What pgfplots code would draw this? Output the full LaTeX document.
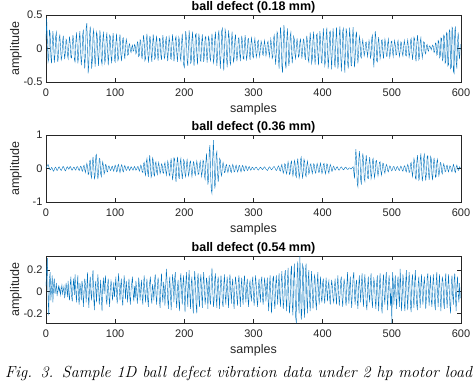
\documentclass[border=0pt]{standalone}
\usepackage{fontspec}
\usepackage{pgfplots}
\usepackage{pgfplotstable}
\pgfplotsset{compat=1.18}
\newfontfamily\arial{Liberation Sans}
\definecolor{mblue}{rgb}{0,0.447,0.741}
\definecolor{axgray}{rgb}{0.15,0.15,0.15}

\pgfplotstableread[header=false]{
0.12
0.45
0.10
-0.20
-0.15
0.28
0.22
-0.12
-0.22
0.05
0.26
0.08
-0.21
-0.10
0.18
0.24
-0.05
-0.20
-0.12
0.15
0.20
0.02
-0.17
-0.12
0.10
0.19
-0.03
-0.16
-0.06
0.14
0.12
-0.10
-0.15
0.04
0.18
0.08
-0.13
-0.14
0.06
0.20
0.10
-0.16
-0.20
0.08
0.24
0.05
-0.22
-0.14
0.15
0.26
-0.04
-0.25
-0.12
0.20
0.28
-0.08
-0.30
-0.10
0.30
0.38
0.05
-0.37
-0.22
0.20
0.33
-0.02
-0.30
-0.18
0.22
0.28
-0.06
-0.27
-0.12
0.25
0.20
-0.10
-0.26
0.02
0.27
0.12
-0.18
-0.24
0.10
0.25
0.06
-0.22
-0.16
0.14
0.24
-0.02
-0.25
-0.08
0.20
0.18
-0.12
-0.22
0.05
0.23
0.10
-0.17
-0.20
0.08
0.22
0.03
-0.18
-0.14
0.12
0.21
-0.04
-0.19
-0.08
0.15
0.16
-0.07
-0.16
0.02
0.14
0.08
-0.10
-0.09
0.05
0.07
-0.03
-0.06
0.02
0.05
-0.04
-0.03
0.06
0.04
-0.08
-0.05
0.10
0.08
-0.12
-0.10
0.13
0.12
-0.09
-0.16
0.04
0.20
0.10
-0.18
-0.15
0.12
0.22
-0.02
-0.21
-0.10
0.18
0.17
-0.08
-0.20
0.03
0.21
0.09
-0.16
-0.14
0.11
0.19
-0.03
-0.18
-0.07
0.15
0.14
-0.10
-0.17
0.05
0.20
0.06
-0.15
-0.12
0.11
0.18
-0.06
-0.19
0.00
0.17
0.10
-0.14
-0.16
0.08
0.21
0.04
-0.19
-0.11
0.14
0.18
-0.05
-0.20
-0.03
0.17
0.12
-0.13
-0.18
0.08
0.22
0.02
-0.24
-0.28
0.05
0.26
0.15
-0.18
-0.26
0.06
0.27
0.08
-0.22
-0.20
0.14
0.25
-0.05
-0.26
-0.10
0.20
0.22
-0.08
-0.24
0.00
0.22
0.12
-0.17
-0.19
0.08
0.21
0.03
-0.20
-0.10
0.16
0.18
-0.06
-0.21
-0.02
0.19
0.12
-0.14
-0.18
0.07
0.22
0.06
-0.21
-0.15
0.14
0.25
-0.03
-0.26
-0.12
0.20
0.27
-0.06
-0.30
-0.10
0.26
0.30
-0.08
-0.33
-0.05
0.28
0.22
-0.14
-0.28
0.04
0.27
0.14
-0.20
-0.24
0.08
0.25
0.06
-0.20
-0.15
0.13
0.21
-0.04
-0.19
-0.09
0.15
0.16
-0.07
-0.19
0.01
0.19
0.10
-0.15
-0.16
0.09
0.20
-0.02
-0.18
-0.08
0.14
0.15
-0.07
-0.17
0.02
0.16
0.08
-0.12
-0.14
0.07
0.15
0.01
-0.13
-0.08
0.10
0.12
-0.05
-0.12
0.00
0.11
0.07
-0.08
-0.10
0.04
0.12
0.02
-0.11
-0.06
0.08
0.11
-0.04
-0.12
0.02
0.14
0.06
-0.15
-0.12
0.15
0.20
-0.08
-0.24
-0.06
0.25
0.22
-0.14
-0.30
0.02
0.32
0.18
-0.26
-0.36
0.06
0.35
0.20
-0.22
-0.30
0.10
0.30
0.08
-0.26
-0.18
0.18
0.24
-0.06
-0.22
-0.08
0.18
0.14
-0.10
-0.15
0.05
0.15
0.04
-0.13
-0.10
0.10
0.14
-0.04
-0.15
-0.02
0.14
0.12
-0.10
-0.17
0.04
0.19
0.10
-0.16
-0.20
0.08
0.24
0.06
-0.22
-0.16
0.14
0.25
-0.04
-0.24
-0.10
0.20
0.22
-0.08
-0.25
0.02
0.26
0.12
-0.20
-0.22
0.10
0.30
0.08
-0.26
-0.20
0.18
0.31
-0.02
-0.30
-0.12
0.24
0.26
-0.10
-0.31
0.00
0.30
0.16
-0.22
-0.28
0.10
0.32
0.05
-0.30
-0.20
0.20
0.33
-0.06
-0.34
-0.14
0.26
0.30
-0.12
-0.36
-0.04
0.30
0.22
-0.20
-0.30
0.06
0.31
0.14
-0.25
-0.26
0.14
0.32
0.04
-0.28
-0.16
0.20
0.24
-0.08
-0.22
-0.06
0.18
0.12
-0.12
-0.14
0.06
0.13
0.02
-0.11
-0.06
0.09
0.10
-0.04
-0.12
0.01
0.12
0.06
-0.14
-0.10
0.16
0.20
-0.10
-0.28
-0.04
0.26
0.16
-0.18
-0.20
0.08
0.17
0.00
-0.15
-0.08
0.12
0.13
-0.06
-0.15
0.02
0.14
0.07
-0.11
-0.12
0.07
0.14
-0.02
-0.13
-0.06
0.10
0.11
-0.05
-0.12
0.02
0.12
0.05
-0.10
-0.09
0.07
0.12
-0.03
-0.12
-0.04
0.10
0.09
-0.07
-0.11
0.02
0.12
0.05
-0.10
-0.11
0.06
0.13
0.01
-0.13
-0.07
0.12
0.15
-0.06
-0.17
-0.04
0.17
0.14
-0.12
-0.19
0.05
0.20
0.09
-0.17
-0.14
0.10
0.16
-0.02
-0.14
-0.06
0.10
0.09
-0.06
-0.08
0.04
0.06
-0.02
-0.04
0.03
0.04
0.01
-0.02
0.02
0.05
0.03
-0.06
-0.04
0.08
0.07
-0.10
-0.08
0.12
0.10
-0.14
-0.12
0.16
0.15
-0.18
-0.16
0.20
0.18
-0.22
-0.20
0.24
0.22
-0.26
-0.24
0.28
0.26
-0.30
-0.28
0.32
0.30
-0.34
-0.37
0.26
0.33
-0.20
-0.30
0.10
0.24
-0.08
-0.16
0.06
}\dataA

\pgfplotstableread[header=false]{
0.02
0.05
0.10
0.12
0.06
0.00
-0.04
-0.02
0.03
0.01
-0.05
-0.08
-0.03
0.02
0.04
-0.01
-0.06
-0.04
0.03
0.05
0.01
-0.03
-0.06
-0.02
0.04
0.06
0.02
-0.04
-0.07
-0.03
0.03
0.05
0.01
-0.02
0.02
0.06
0.03
-0.04
-0.05
0.00
0.04
0.03
-0.03
-0.05
0.02
0.06
0.04
-0.02
-0.06
0.00
0.07
0.05
-0.06
-0.08
0.06
0.10
-0.04
-0.12
0.02
0.15
0.08
-0.18
-0.15
0.22
0.25
-0.20
-0.28
0.15
0.35
0.05
-0.30
-0.22
0.38
0.42
-0.10
-0.32
-0.12
0.30
0.28
-0.15
-0.24
0.05
0.20
0.08
-0.16
-0.10
0.12
0.10
-0.08
-0.10
0.04
0.08
0.02
-0.06
-0.04
0.05
0.07
-0.03
-0.08
0.02
0.10
0.05
-0.10
-0.08
0.09
0.12
-0.04
-0.12
-0.02
0.11
0.08
-0.07
-0.10
0.04
0.09
0.01
-0.06
-0.03
0.05
0.06
-0.02
-0.06
0.00
0.05
0.03
-0.04
-0.05
0.02
0.06
0.01
-0.05
-0.03
0.04
0.06
-0.02
-0.08
0.00
0.10
0.06
-0.10
-0.12
0.14
0.18
-0.12
-0.20
0.20
0.30
-0.10
-0.25
0.15
0.40
0.08
-0.26
-0.18
0.32
0.25
-0.18
-0.22
0.15
0.20
-0.10
-0.18
0.08
0.18
0.00
-0.15
-0.06
0.14
0.10
-0.12
-0.14
0.10
0.18
-0.05
-0.20
-0.02
0.22
0.12
-0.18
-0.22
0.15
0.30
-0.05
-0.35
-0.15
0.32
0.28
-0.20
-0.40
0.05
0.35
0.15
-0.28
-0.30
0.18
0.30
-0.06
-0.32
-0.10
0.26
0.20
-0.18
-0.25
0.10
0.26
0.04
-0.22
-0.12
0.18
0.22
-0.06
-0.24
-0.06
0.20
0.16
-0.14
-0.20
0.06
0.22
0.08
-0.18
-0.16
0.12
0.22
-0.02
-0.24
-0.08
0.25
0.20
-0.20
-0.32
0.15
0.45
0.10
-0.48
-0.35
0.50
0.70
-0.20
-0.65
-0.75
0.30
0.85
0.20
-0.60
-0.45
0.40
0.50
-0.15
-0.40
-0.10
0.30
0.25
-0.15
-0.22
0.06
0.18
0.08
-0.12
-0.10
0.08
0.12
-0.04
-0.12
-0.02
0.10
0.08
-0.08
-0.12
0.03
0.12
0.05
-0.10
-0.08
0.06
0.10
-0.02
-0.10
-0.04
0.08
0.09
-0.04
-0.10
0.00
0.09
0.06
-0.06
-0.08
0.03
0.08
0.02
-0.06
-0.04
0.04
0.06
-0.01
-0.05
-0.02
0.04
0.03
-0.02
-0.04
0.00
0.03
0.04
0.01
-0.03
-0.05
-0.02
0.02
0.04
0.02
-0.01
-0.03
-0.01
0.03
0.05
0.02
-0.02
-0.04
-0.06
-0.03
0.02
0.05
0.03
-0.01
-0.04
-0.02
0.02
0.05
0.06
0.02
-0.03
-0.06
-0.03
0.03
0.08
0.04
-0.06
-0.08
0.05
0.12
-0.02
-0.14
-0.06
0.14
0.12
-0.10
-0.16
0.05
0.20
0.08
-0.18
-0.14
0.16
0.22
-0.06
-0.22
-0.08
0.24
0.18
-0.20
-0.26
0.12
0.30
0.02
-0.28
-0.16
0.26
0.34
-0.08
-0.30
-0.06
0.28
0.20
-0.18
-0.24
0.08
0.22
0.04
-0.16
-0.10
0.12
0.14
-0.04
-0.15
-0.02
0.14
0.10
-0.10
-0.14
0.04
0.15
0.06
-0.12
-0.12
0.08
0.16
-0.02
-0.15
-0.08
0.12
0.15
-0.04
-0.16
-0.04
0.14
0.12
-0.08
-0.14
0.02
0.12
0.06
-0.08
-0.08
0.04
0.07
0.00
-0.05
-0.02
0.03
0.05
0.01
-0.04
-0.05
-0.01
0.03
0.05
0.02
-0.02
-0.04
-0.02
0.02
0.04
0.03
-0.01
-0.03
-0.02
0.01
0.02
0.00
-0.02
0.01
0.03
0.05
-0.10
-0.30
0.20
0.58
0.25
-0.45
-0.55
0.15
0.52
0.30
-0.35
-0.48
0.10
0.45
0.28
-0.30
-0.38
0.12
0.40
0.15
-0.28
-0.30
0.14
0.34
0.05
-0.30
-0.18
0.25
0.30
-0.08
-0.28
-0.10
0.22
0.24
-0.06
-0.22
-0.08
0.18
0.20
-0.06
-0.20
-0.04
0.16
0.14
-0.08
-0.14
0.02
0.12
0.08
-0.06
-0.10
0.00
0.08
0.06
-0.04
-0.07
-0.02
0.05
0.06
0.00
-0.06
-0.04
0.03
0.06
0.02
-0.04
-0.06
0.01
0.07
0.04
-0.05
-0.08
0.00
0.08
0.06
-0.06
-0.10
0.04
0.12
0.05
-0.12
-0.10
0.14
0.18
-0.10
-0.24
0.02
0.30
0.20
-0.28
-0.32
0.16
0.40
0.10
-0.35
-0.30
0.25
0.45
0.00
-0.38
-0.22
0.30
0.42
-0.10
-0.36
-0.15
0.35
0.38
-0.12
-0.34
-0.08
0.36
0.30
-0.20
-0.35
0.05
0.32
0.15
-0.26
-0.24
0.18
0.28
-0.05
-0.22
-0.10
0.18
0.16
-0.10
-0.16
0.04
0.14
0.06
-0.10
-0.08
0.08
0.10
-0.04
-0.10
0.00
0.08
0.06
-0.06
-0.10
0.02
0.12
0.05
-0.08
-0.12
0.04
0.10
0.02
-0.06
-0.03
0.05
0.02
}\dataB

\pgfplotstableread[header=false]{
0.05
0.20
0.31
-0.05
-0.22
0.12
0.18
-0.08
0.02
0.15
-0.10
0.06
0.12
-0.02
0.03
0.08
-0.04
0.01
0.05
0.00
0.04
-0.03
0.02
0.06
-0.02
0.01
0.05
-0.06
-0.01
0.08
0.03
-0.05
0.10
-0.02
-0.08
0.06
0.14
-0.04
-0.09
0.05
0.12
-0.03
0.16
0.02
-0.10
0.04
0.15
-0.06
-0.12
0.08
0.03
-0.08
0.10
0.05
-0.14
-0.02
0.12
0.07
-0.10
0.03
0.18
-0.04
-0.15
0.06
0.14
-0.02
-0.08
0.12
0.20
-0.06
-0.17
0.04
0.10
-0.10
0.02
0.16
0.05
-0.12
-0.03
0.11
-0.06
-0.18
0.03
0.13
-0.02
0.08
0.15
-0.07
-0.12
0.05
0.12
-0.04
-0.14
0.02
0.10
0.06
-0.08
-0.02
0.09
-0.05
0.04
0.14
-0.03
-0.11
0.08
0.17
0.02
-0.08
0.06
0.12
-0.06
-0.13
0.03
0.15
0.05
-0.07
0.10
0.02
-0.10
0.04
0.12
-0.04
-0.12
0.02
0.08
0.14
-0.02
-0.09
0.05
-0.06
0.10
0.03
-0.11
-0.02
0.13
0.06
-0.08
0.02
0.11
-0.05
-0.12
0.06
0.15
-0.01
-0.10
0.04
0.12
-0.07
-0.14
0.03
0.09
0.14
-0.05
-0.11
0.07
0.02
-0.08
0.10
0.16
-0.03
-0.12
0.04
0.13
0.08
-0.09
-0.15
0.06
0.17
-0.02
-0.10
0.09
0.03
-0.13
0.05
0.21
0.10
-0.08
-0.16
0.06
0.14
-0.04
-0.17
0.02
0.16
0.07
-0.10
0.12
0.18
-0.06
-0.15
0.04
0.11
-0.08
-0.18
0.10
0.17
0.00
-0.12
0.08
0.15
-0.05
-0.19
0.06
0.18
0.02
-0.14
0.10
0.20
-0.04
-0.16
0.08
0.14
-0.10
-0.20
0.05
0.19
0.08
-0.12
-0.20
0.12
0.17
-0.06
-0.14
0.10
0.16
-0.02
-0.15
0.06
0.18
0.04
-0.12
-0.05
0.13
0.08
-0.16
0.02
0.15
-0.08
-0.12
0.10
0.22
0.04
-0.14
-0.08
0.12
0.17
-0.05
-0.15
0.08
0.14
-0.02
-0.16
0.04
0.15
0.06
-0.10
-0.14
0.07
0.16
-0.03
-0.12
0.05
0.14
-0.04
-0.15
0.08
0.16
0.02
-0.11
0.06
0.12
-0.08
-0.16
0.03
0.14
0.07
-0.06
-0.13
0.09
0.15
-0.02
-0.14
0.04
0.13
-0.05
-0.12
0.07
0.15
0.01
-0.10
0.05
0.12
-0.07
-0.14
0.06
0.10
-0.03
-0.09
0.08
0.14
-0.05
-0.13
0.03
0.15
0.06
-0.08
-0.14
0.04
0.12
-0.02
-0.10
0.09
0.14
-0.06
-0.12
0.02
0.13
0.05
-0.09
0.04
0.13
-0.07
-0.18
0.05
0.15
-0.03
-0.20
-0.06
0.12
0.14
-0.09
-0.16
0.06
0.15
0.02
-0.12
0.08
0.17
-0.05
-0.14
0.07
0.19
0.02
-0.16
-0.08
0.14
0.20
-0.06
-0.18
0.10
0.22
-0.04
-0.20
-0.10
0.18
0.24
-0.12
-0.22
0.08
0.26
0.04
-0.24
-0.29
0.15
0.28
-0.10
-0.20
0.33
0.12
-0.26
-0.18
0.25
0.22
-0.15
-0.24
0.18
0.26
-0.05
-0.20
0.10
0.20
-0.08
-0.18
0.06
0.19
0.02
-0.16
-0.04
0.15
0.12
-0.10
-0.17
0.07
0.18
-0.02
-0.12
0.05
0.14
-0.06
-0.10
0.08
0.12
-0.04
-0.11
0.03
0.13
0.01
-0.09
0.06
0.10
-0.05
-0.12
0.02
0.11
0.05
-0.07
-0.10
0.04
0.12
-0.02
-0.12
0.05
0.15
0.00
-0.13
-0.04
0.10
0.14
-0.06
-0.14
0.03
0.12
0.06
-0.09
-0.13
0.07
0.18
-0.02
-0.11
0.05
0.14
-0.05
-0.15
0.02
0.13
0.18
-0.04
-0.12
0.06
0.11
-0.08
-0.16
0.04
0.15
0.02
-0.10
0.08
0.17
-0.03
-0.14
0.06
0.16
0.03
-0.12
-0.17
0.05
0.14
-0.03
-0.10
0.09
0.17
-0.06
-0.15
0.02
0.12
0.08
-0.09
-0.16
0.07
0.15
-0.04
-0.18
0.05
0.17
0.02
-0.14
-0.20
0.08
0.16
-0.05
-0.12
0.10
0.18
-0.02
-0.17
0.04
0.15
0.06
-0.13
0.03
-0.29
0.18
0.10
-0.12
0.05
0.15
-0.06
-0.16
0.08
0.14
-0.04
-0.14
0.21
0.06
-0.18
-0.05
0.16
0.10
-0.12
-0.18
0.09
0.20
-0.03
-0.17
0.04
0.18
0.07
-0.14
-0.19
0.10
0.16
-0.05
-0.15
0.08
0.20
0.02
-0.12
-0.17
0.06
0.14
-0.02
-0.15
0.07
0.16
-0.04
-0.12
0.05
0.14
0.02
-0.16
-0.06
0.12
0.17
-0.03
-0.13
0.06
0.15
-0.08
-0.14
0.04
0.16
0.05
-0.12
-0.17
0.08
0.18
-0.02
-0.14
0.06
0.16
-0.06
-0.18
0.03
0.14
0.09
-0.11
-0.16
0.07
0.17
-0.04
-0.15
0.04
0.16
0.02
-0.13
-0.20
0.08
0.15
-0.04
-0.12
0.10
0.17
-0.06
-0.18
0.05
0.14
-0.02
-0.10
0.08
-0.06
}\dataC

\pgfplotsset{sigaxis/.style={
  scale only axis, width=415pt, height=67pt,
  xmin=0, xmax=600, xtick={0,100,200,300,400,500,600},
  tick align=inside, tick pos=both, xticklabel pos=lower, yticklabel pos=left,
  axis line style={draw=axgray, line width=0.5pt},
  tick style={draw=axgray, line width=0.5pt},
  major tick length=4pt,
  /pgf/number format/assume math mode=true,
  ticklabel style={font=\arial\fontsize{11}{12}\selectfont, text=axgray},
  xticklabel style={anchor=base, yshift=-14.5pt},
  label style={font=\arial\fontsize{12.5}{14}\selectfont, text=axgray},
  xlabel={samples}, ylabel={amplitude},
  xlabel style={at={(axis description cs:0.5,-0.46)}, anchor=base},
  ylabel style={at={(axis description cs:-0.065,0.5)}, anchor=base, rotate=0},
  title style={font=\arial\bfseries\fontsize{12.5}{14}\selectfont, text=black,
    at={(axis description cs:0.5,1)}, anchor=base, yshift=-1.5pt},
}}

\begin{document}
\begin{tikzpicture}
\useasboundingbox (0,0) rectangle (474pt,381pt);
\fill[white] (0,0) rectangle (474pt,381pt);
\clip (0,0) rectangle (474pt,381pt);

\begin{axis}[sigaxis, at={(46pt,366pt)}, anchor=north west,
  ymin=-0.5, ymax=0.5, ytick={-0.5,0,0.5},
  title={ball defect (0.18 mm)}]
\addplot[mblue, line width=0.4pt, no markers] table[x expr=\coordindex, y index=0] {\dataA};
\end{axis}

\begin{axis}[sigaxis, at={(46pt,246pt)}, anchor=north west,
  ymin=-1, ymax=1, ytick={-1,0,1},
  title={ball defect (0.36 mm)}]
\addplot[mblue, line width=0.4pt, no markers] table[x expr=\coordindex, y index=0] {\dataB};
\end{axis}

\begin{axis}[sigaxis, at={(46pt,125pt)}, anchor=north west,
  ymin=-0.29, ymax=0.33, ytick={-0.2,0,0.2},
  title={ball defect (0.54 mm)}]
\addplot[mblue, line width=0.4pt, no markers] table[x expr=\coordindex, y index=0] {\dataC};
\end{axis}

\node[anchor=base west, inner sep=0pt] at (5pt,4pt)
  {\fontsize{16}{18}\selectfont\itshape\makebox[467pt][s]{Fig. 3. Sample 1D ball defect vibration data under 2 hp motor load}};
\end{tikzpicture}
\end{document}
